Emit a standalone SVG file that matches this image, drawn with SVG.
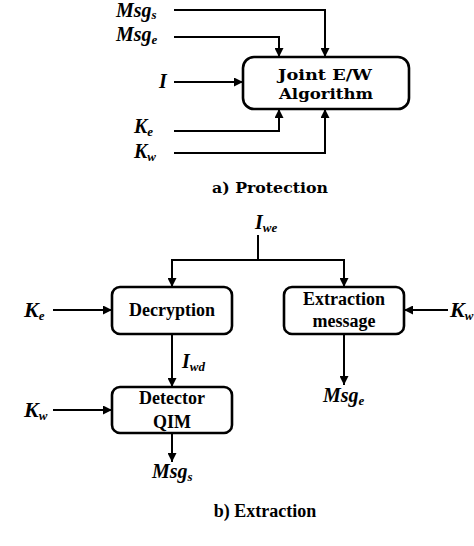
<svg xmlns="http://www.w3.org/2000/svg" width="474" height="546" viewBox="0 0 474 546">
<defs>
<marker id="ah" viewBox="0 0 10 10" refX="10" refY="5" markerWidth="4.5" markerHeight="4.5" orient="auto" markerUnits="strokeWidth">
<path d="M0,0 L10,5 L0,10 z" fill="#000"/>
</marker>
<style>
.box{fill:#fff;stroke:#000;stroke-width:2.6}
.ln{fill:none;stroke:#000;stroke-width:2;marker-end:url(#ah)}
.bt{font-family:"Liberation Serif",serif;font-weight:bold;font-size:18px;fill:#000;text-anchor:middle}
.at{font-family:"DejaVu Serif","Liberation Serif",serif;font-weight:bold;font-size:15px;fill:#000;text-anchor:middle}
.m{font-family:"Liberation Serif",serif;font-weight:bold;font-style:italic;font-size:20px;fill:#000}
.k{font-size:22px}
.s{font-size:13px}
</style>
</defs>
<rect width="474" height="546" fill="#fff"/>
<g id="connectors">
<polyline class="ln" points="174,10 325,10 325,57"/>
<polyline class="ln" points="174,37 279,37 279,57"/>
<polyline class="ln" points="174,82 243,82"/>
<polyline class="ln" points="174,131 279,131 279,109"/>
<polyline class="ln" points="174,153 325,153 325,109"/>
<polyline fill="none" stroke="#000" stroke-width="2" points="258,235 258,260"/>
<polyline class="ln" points="258,260 172,260 172,287"/>
<polyline class="ln" points="258,260 344,260 344,287"/>
<polyline class="ln" points="53,310 112,310"/>
<polyline class="ln" points="448,310 404,310"/>
<polyline class="ln" points="172,334 172,387"/>
<polyline class="ln" points="344,334 344,385"/>
<polyline class="ln" points="53,410 112,410"/>
<polyline class="ln" points="172,433 172,462"/>
</g>
<g id="joint">
<rect class="box" x="243" y="57" width="166" height="52" rx="11"/>
<text class="at" x="325" y="80" textLength="94" lengthAdjust="spacingAndGlyphs">Joint E/W</text>
<text class="at" x="326" y="99" textLength="94" lengthAdjust="spacingAndGlyphs">Algorithm</text>
</g>
<g id="in-msgs"><text class="m" x="116" y="17" font-size="19">Msg<tspan class="s" dy="2">s</tspan></text></g>
<g id="in-msge"><text class="m" x="116" y="41">Msg<tspan class="s" dy="3">e</tspan></text></g>
<g id="in-i"><text class="m" x="159" y="88">I</text></g>
<g id="in-ke"><text class="m" x="134" y="133">K<tspan class="s" dy="3">e</tspan></text></g>
<g id="in-kw"><text class="m" x="134" y="158">K<tspan class="s" dy="3">w</tspan></text></g>
<g id="cap-a"><text class="at" x="270" y="193" textLength="116" lengthAdjust="spacingAndGlyphs">a) Protection</text></g>
<g id="iwe"><text class="m" x="255" y="229">I<tspan class="s" dy="3">we</tspan></text></g>
<g id="decryption">
<rect class="box" x="112" y="287" width="120" height="47" rx="8"/>
<text class="bt" x="172" y="316">Decryption</text>
</g>
<g id="extraction">
<rect class="box" x="284" y="287" width="120" height="47" rx="8"/>
<text class="bt" x="344" y="305">Extraction</text>
<text class="bt" x="344" y="327">message</text>
</g>
<g id="detector">
<rect class="box" x="112" y="387" width="120" height="46" rx="8"/>
<text class="bt" x="172" y="404">Detector</text>
<text class="bt" x="172" y="428">QIM</text>
</g>
<g id="b-ke"><text class="m k" x="24" y="317">K<tspan class="s" dy="3">e</tspan></text></g>
<g id="b-kw-r"><text class="m k" x="450" y="317">K<tspan class="s" dy="3">w</tspan></text></g>
<g id="b-kw-l"><text class="m k" x="24" y="417">K<tspan class="s" dy="3">w</tspan></text></g>
<g id="iwd"><text class="m" x="182" y="368">I<tspan class="s" dy="3">wd</tspan></text></g>
<g id="out-msge"><text class="m" x="323" y="402">Msg<tspan class="s" dy="3">e</tspan></text></g>
<g id="out-msgs"><text class="m" x="152" y="478">Msg<tspan class="s" dy="3">s</tspan></text></g>
<g id="cap-b"><text class="bt" x="265" y="517">b) Extraction</text></g>
</svg>
